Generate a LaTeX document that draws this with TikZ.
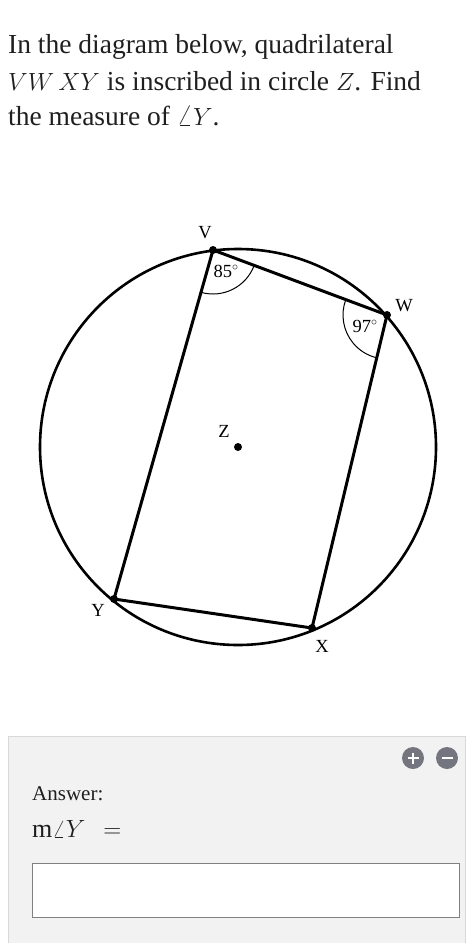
\documentclass[tikz,border=0pt]{standalone}
\usepackage{fontspec}
\setmainfont{Liberation Serif}
\usepackage{amsmath}
\usetikzlibrary{calc}
\begin{document}
\begin{tikzpicture}[x=1pt,y=-1pt,
  txt/.style={inner sep=0pt, anchor=base west, text=black!88},
  lbl/.style={inner sep=0pt, font=\fontsize{18.5}{18.5}\selectfont},
  edge/.style={line width=3pt},
  vtx/.style={fill=black},
  anglearc/.style={line width=1pt},
  roundbtn/.style={fill=black!50!blue!8!gray}]
\useasboundingbox (0,0) rectangle (474,943);
\fill[white] (0,0) rectangle (474,943);
% question text
\node[txt, font=\fontsize{27.5}{27.5}\selectfont] (q1) at (8,53) {In the diagram below, quadrilateral};
\node[txt, font=\fontsize{27.5}{27.5}\selectfont] (q2) at (8,90) {$VW\,XY$ is inscribed in circle $Z$. Find};
\node[txt, font=\fontsize{27.5}{27.5}\selectfont] (q3) at (8,125) {the measure of $\angle Y$.};
% circle
\coordinate (Z) at (238,447);
\draw[line width=2.6pt] (Z) circle (198);
\fill[vtx] (Z) circle (4pt);
% vertices
\coordinate (V) at (213,250);
\coordinate (W) at (387,315);
\coordinate (X) at (312,628);
\coordinate (Y) at (114,599);
\draw[edge, line join=round] (V) -- (W) -- (X) -- (Y) -- cycle;
\foreach \p in {V,W,X,Y} {\fill[vtx] (\p) circle (4pt);}
% angle arcs
\draw[anglearc] ($(V)!44pt!(Y)$) arc[start angle=254.2, end angle=339.5, radius=44pt];
\draw[anglearc] ($(W)!44pt!(V)$) arc[start angle=159.5, end angle=256.5, radius=44pt];
\node[lbl] (a85) at (226,271) {85$^\circ$};
\node[lbl] (a97) at (365,326) {97$^\circ$};
% labels
\node[lbl] (lV) at (205,233) {V};
\node[lbl] (lW) at (404,306) {W};
\node[lbl] (lX) at (322,646) {X};
\node[lbl] (lY) at (98,610) {Y};
\node[lbl] (lZ) at (224,431) {Z};
% answer panel
\draw[fill=black!5, draw=black!15, line width=1pt] (8,736) rectangle (465,950);
\coordinate (plus) at (413,758);
\coordinate (minus) at (447,758);
\fill[roundbtn] (plus) circle (11pt);
\fill[roundbtn] (minus) circle (11pt);
\draw[white, line width=2.8pt] ($(plus)+(-5.5,0)$) -- ($(plus)+(5.5,0)$);
\draw[white, line width=2.8pt] ($(plus)+(0,-5.5)$) -- ($(plus)+(0,5.5)$);
\draw[white, line width=2.8pt] ($(minus)+(-5.5,0)$) -- ($(minus)+(5.5,0)$);
\node[txt, font=\fontsize{21}{21}\selectfont] (ans) at (32,800) {Answer:};
\node[txt, font=\fontsize{26}{26}\selectfont] (my) at (32,837) {$\mathrm{m}\angle Y\;\,=$};
\draw[fill=white, draw=black!50, line width=1pt] (32,863) rectangle (459,917);
\end{tikzpicture}
\end{document}
